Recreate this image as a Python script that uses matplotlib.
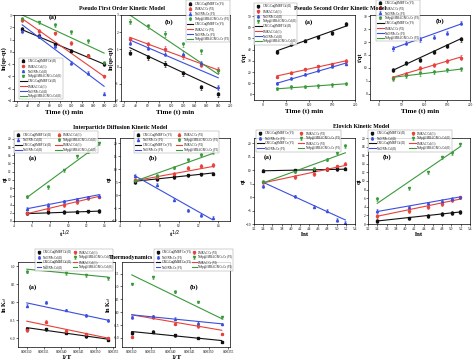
import numpy as np
import matplotlib
matplotlib.use("Agg")
import matplotlib.pyplot as plt
from matplotlib.ticker import FormatStrFormatter

plt.rcParams['font.family'] = ['Liberation Serif', 'DejaVu Serif']

# ---- data ----
t_min = [30, 60, 90, 120, 150, 180]
sqrt_t = [5.48, 7.75, 9.49, 10.95, 12.25, 13.42]
ln_t = [3.40, 4.09, 4.50, 4.79, 5.01, 5.19]
temps_K = [303, 298, 293, 288, 283]
inv_T = [1.0 / T for T in temps_K]

adsorbents = ["CMC/Cu@MBP", "IMRAC", "NiO/NPs", "NiSp@IMRAC/MCs"]
colors = ["#111111", "#e8403a", "#3a4fe0", "#3a9a3a"]
markers = ["s", "o", "^", "v"]

# pseudo first order, ln(qe-qt)
pfo_cd = [[1.9, 1.3, 0.6, 0.1, -0.3, -1.0],
          [2.6, 1.7, 1.5, 0.7, -0.3, -2.0],
          [1.7, 1.3, 0.5, -0.9, -1.7, -3.4],
          [2.7, 2.4, 2.2, 1.6, 0.9, -0.9]]
pfo_cd_fit = [[1.8, -1.0], [2.7, -2.0], [2.2, -2.8], [3.0, -0.1]]
pfo_cr = [[0.8, 0.55, 0.15, -0.4, -1.2, -1.6],
          [1.6, 1.3, 1.05, 0.6, 0.1, -0.2],
          [1.4, 1.1, 0.75, 0.75, 0.2, -1.2],
          [2.6, 2.35, 1.9, 1.3, 0.9, -0.25]]
pfo_cr_fit = [[1.1, -1.3], [1.7, -0.2], [1.55, -0.65], [3.0, -0.45]]

# pseudo second order, t/qt
pso_cd = [[38, 45, 48, 51, 55, 63],
          [16, 19.5, 22.5, 25, 27, 30],
          [10, 14.5, 18, 21.5, 25, 27.5],
          [5, 6.5, 7, 7.5, 8.5, 9.5]]
pso_cd_fit = [[39, 61], [16.5, 30], [10, 28], [5, 9.5]]
pso_cr = [[9, 12, 13, 16, 18.5, 21],
          [6, 7.5, 10, 11, 12.5, 14],
          [17.5, 19.5, 21, 22, 23.5, 27.5],
          [5.5, 7, 7.8, 8.3, 9, 9.5]]
pso_cr_fit = [[9, 21.3], [6.3, 14.2], [17.5, 27], [6.3, 9.5]]

# interparticle diffusion, qt
ipd_cd = [[1.9, 2.1, 2.2, 2.3, 2.35, 2.4],
          [1.9, 3.0, 3.9, 4.6, 5.5, 5.9],
          [3.0, 3.9, 4.8, 5.3, 5.8, 6.2],
          [5.9, 8.3, 12.3, 15.7, 16.9, 18.9]]
ipd_cd_fit = [[1.8, 2.4], [1.8, 6.0], [3.0, 6.4], [5.8, 18.6]]
ipd_cr = [[5.0, 6.0, 6.8, 7.6, 8.0, 8.3],
          [5.8, 7.0, 8.3, 10.5, 11.2, 11.6],
          [7.5, 4.0, -1.8, -5.8, -7.8, -8.7],
          [5.5, 7.5, 10.5, 13.5, 15.5, 16.5]]
ipd_cr_fit = [[5.3, 8.5], [5.5, 11.0], [7.5, -9.5], [5.3, 16.0]]

# Elovich, qt
elov_cr = [[9.8, 10.0, 10.2, 10.4, 10.5, 10.6],
           [5.5, 7.5, 8.5, 10.5, 11.5, 12.5],
           [4.0, 0.3, -3.5, -5.0, -8.5, -9.5],
           [5.8, 9.5, 10.5, 14.0, 16.5, 19.0]]
elov_cr_fit = [[9.8, 10.4], [5.3, 11.8], [5.5, -8.5], [5.3, 16.5]]
elov_cd = [[0.7, 1.3, 1.9, 2.3, 2.6, 2.8],
           [1.9, 3.0, 3.9, 4.6, 5.5, 6.2],
           [3.0, 3.9, 4.8, 5.3, 5.8, 6.2],
           [5.8, 8.3, 12.0, 15.5, 16.5, 18.5]]
elov_cd_fit = [[0.7, 2.8], [1.8, 5.8], [2.9, 6.3], [4.8, 18.0]]

# thermodynamics, ln Kd
thermo_cd = [[-0.75, -0.75, -0.85, -0.95, -1.05],
             [-0.78, -0.55, -0.8, -0.9, -1.0],
             [-0.1, 0.0, -0.22, -0.37, -0.5],
             [0.85, 1.0, 0.8, 0.75, 0.67]]
thermo_cd_fit = [[-0.71, -1.03], [-0.53, -1.0], [-0.02, -0.5], [0.92, 0.7]]
thermo_cr = [[-0.8, -0.75, -0.9, -1.0, -1.15],
             [-0.95, -0.2, -0.45, -0.55, -0.85],
             [-0.2, -0.15, -0.25, -0.4, -0.45],
             [1.1, 1.35, 0.8, 0.4, -0.2]]
thermo_cr_fit = [[-0.75, -1.1], [-0.1, -0.7], [-0.1, -0.45], [1.45, -0.25]]

W, H = 474, 364
fig = plt.figure(figsize=(W / 100, H / 100), dpi=100)


def px_axes(x0, y0, x1, y1):
    return fig.add_axes([x0 / W, 1 - y1 / H, (x1 - x0) / W, (y1 - y0) / H])


def panel(box, x, series, fits, err, metal, xlabel, ylabel, tag, tagpos,
          xlim, ylim, xticks, yticks, leg_pos, ncol=1, xfmt=None, yfmt=None,
          colsp=1.5, hlen=2.2):
    ax = px_axes(*box)
    pts, lines = [], []
    for i in range(4):
        lab = f"{adsorbents[i]} {metal}"
        h = ax.errorbar(x, series[i], yerr=err, fmt=markers[i], ms=1.5,
                        color=colors[i], ecolor=colors[i], elinewidth=0.4,
                        capsize=0.8, capthick=0.4, label=lab)
        pts.append(h)
    for i in range(4):
        lab = f"{adsorbents[i]} {metal}"
        l, = ax.plot([x[0], x[-1]], fits[i], color=colors[i], lw=0.8, label=lab)
        lines.append(l)
    ax.set_xlim(*xlim)
    ax.set_ylim(*ylim)
    ax.set_xticks(xticks)
    ax.set_yticks(yticks)
    if xfmt:
        ax.xaxis.set_major_formatter(FormatStrFormatter(xfmt))
    if yfmt:
        ax.yaxis.set_major_formatter(FormatStrFormatter(yfmt))
    ax.tick_params(labelsize=2.5, length=1.2, width=0.4, pad=0.8)
    for s in ax.spines.values():
        s.set_linewidth(0.5)
    ax.set_xlabel(xlabel, fontsize=5, fontweight='bold', labelpad=1)
    ax.set_ylabel(ylabel, fontsize=4.6, fontweight='bold', labelpad=0.3)
    ax.text(tagpos[0], tagpos[1], tag, transform=ax.transAxes, fontsize=5,
            fontweight='bold', ha='center', va='center')
    if ncol == 1:
        handles = pts + lines
    else:
        handles = [pts[0], pts[2], lines[0], lines[2],
                   pts[1], pts[3], lines[1], lines[3]]
    leg = ax.legend(handles=handles, loc=leg_pos[0], bbox_to_anchor=leg_pos[1],
                    ncol=ncol, fontsize=2.1, frameon=True, fancybox=False,
                    edgecolor='#777777', handlelength=hlen, handletextpad=0.5,
                    borderpad=0.4, labelspacing=0.35, columnspacing=colsp,
                    borderaxespad=0)
    leg.get_frame().set_linewidth(0.3)
    return ax


cd, cr = "Cd (II)", "Cr (VI)"

# pseudo first order
panel((14, 15, 115, 101), t_min, pfo_cd, pfo_cd_fit, 0.15, cd,
      "Time (t) min", "ln(qe-qt)", "(a)", (0.38, 0.97),
      (15, 200), (-4, 3), range(20, 201, 20), range(-4, 4),
      ("lower left", (0.05, 0.02)))
panel((121, 15, 230, 101), t_min, pfo_cr, pfo_cr_fit, 0.15, cr,
      "Time (t) min", "ln(qe-qt)", "(b)", (0.44, 0.92),
      (15, 200), (-2, 3), range(20, 201, 20), range(-2, 4),
      ("upper right", (1.0, 1.17)))

# pseudo second order
panel((254, 15, 355, 100), t_min, pso_cd, pso_cd_fit, 1.5, cd,
      "Time (t) min", "t/qt", "(a)", (0.54, 0.92),
      (-20, 200), (-5, 71), range(0, 201, 50), range(0, 71, 10),
      ("upper left", (0.0, 1.14)))
panel((370, 15, 470, 100), t_min, pso_cr, pso_cr_fit, 0.8, cr,
      "Time (t) min", "t/qt", "(b)", (0.70, 0.93),
      (-20, 200), (-2.5, 30.5), range(0, 201, 50), range(0, 31, 5),
      ("upper left", (0.06, 1.18)))

# interparticle diffusion
panel((14, 138, 115, 221), sqrt_t, ipd_cd, ipd_cd_fit, 0.4, cd,
      "t$^{1/2}$", "qt", "(a)", (0.19, 0.76),
      (4, 15.2), (0, 20.2), range(4, 15, 2), range(0, 21, 2),
      ("upper left", (0.0, 1.08)), ncol=2)
panel((120, 138, 230, 221), sqrt_t, ipd_cr, ipd_cr_fit, 0.6, cr,
      "t$^{1/2}$", "qt", "(b)", (0.30, 0.76),
      (4, 15.2), (-10, 22), range(4, 15, 2), range(-10, 21, 5),
      ("upper left", (0.125, 1.08)), ncol=2)

# Elovich
panel((254, 138, 355, 224), ln_t, elov_cr, elov_cr_fit, 0.6, cr,
      "lnt", "qt", "(a)", (0.14, 0.78),
      (3.2, 5.4), (-10, 22), np.arange(3.2, 5.41, 0.2), range(-10, 21, 5),
      ("upper left", (0.02, 1.09)), ncol=2, xfmt='%.1f')
panel((368, 138, 470, 224), ln_t, elov_cd, elov_cd_fit, 0.4, cd,
      "lnt", "qt", "(b)", (0.19, 0.78),
      (3.2, 5.4), (0, 20), np.arange(3.2, 5.41, 0.2), range(0, 21, 2),
      ("upper left", (0.0, 1.09)), ncol=2, xfmt='%.1f')

# thermodynamics
panel((18, 262, 115, 347), inv_T, thermo_cd, thermo_cd_fit, 0.04, cd,
      "1/T", "ln K$_d$", "(a)", (0.15, 0.71),
      (0.003275, 0.003555), (-1.25, 1.12), np.arange(0.00330, 0.003551, 0.00005),
      np.arange(-1.0, 1.01, 0.5), ("upper left", (0.18, 1.15)), ncol=2,
      xfmt='%.5f', yfmt='%.1f', colsp=0.6, hlen=1.6)
panel((122, 262, 230, 347), inv_T, thermo_cr, thermo_cr_fit, 0.05, cr,
      "1/T", "ln K$_d$", "(b)", (0.67, 0.71),
      (0.003275, 0.003555), (-1.35, 1.95), np.arange(0.00330, 0.003551, 0.00005),
      np.arange(-1.0, 1.51, 0.5), ("upper left", (0.30, 1.15)), ncol=2,
      xfmt='%.5f', yfmt='%.1f', colsp=0.6, hlen=1.6)

# section titles
title_kw = dict(fontsize=4.2, fontweight='bold', ha='center', va='center')
fig.text(122 / W, 1 - 9 / H, "Pseudo First Order Kinetic Model", **title_kw)
fig.text(340 / W, 1 - 9 / H, "Pseudo Second Order Kinetic Model", **title_kw)
fig.text(120 / W, 1 - 127 / H, "Interparticle Diffusion Kinetic Model", **title_kw)
fig.text(361 / W, 1 - 127 / H, "Elovich Kinetic Model", **title_kw)
fig.text(131 / W, 1 - 257 / H, "Thermodynamics", **title_kw)

fig.savefig("out.png", dpi=100, facecolor='white')
